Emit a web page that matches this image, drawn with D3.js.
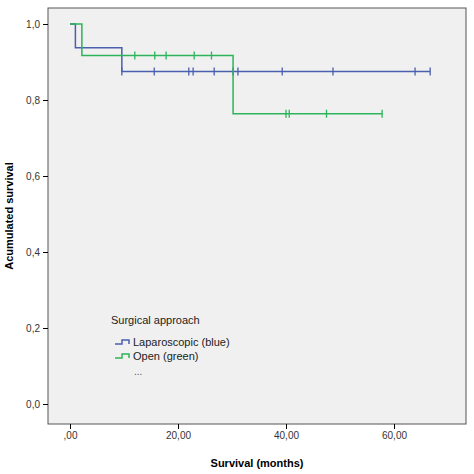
<!DOCTYPE html>
<html><head><meta charset="utf-8">
<script src="https://cdn.jsdelivr.net/npm/d3@7"></script>
<style>body{margin:0;background:#fff}text{font-family:Arial,"Liberation Sans",sans-serif}</style>
</head><body><svg id="c" width="474" height="474"></svg>
<script>
// step points (time, survival) and censor times
var blueSteps = [[0,1],[1,0.9375],[9.6,0.875],[66.7,0.875]];
var blueCens = [9.6,15.6,22.0,22.8,26.7,30.2,31.1,39.3,48.7,63.9,66.7];
var greenSteps = [[0,1],[2.2,0.917],[30.2,0.764],[57.8,0.764]];
var greenCens = [12.0,15.7,17.8,23.0,26.2,40.0,40.6,47.5,57.8];
var xTicks = [0,20,40,60];
var yTicks = [0,0.2,0.4,0.6,0.8,1.0];

var svg = d3.select("#c");
var x = d3.scaleLinear().domain([0,60]).range([70,394]);
var y = d3.scaleLinear().domain([0,1]).range([404,24]);
var L=48,R=466,T=8,B=424;
svg.append("rect").attr("x",L).attr("y",T).attr("width",R-L).attr("height",B-T).attr("fill","#f0f0f0").attr("stroke","#555");

var fmt = function(v){ var s=d3.format(".2f")(v).replace(".",","); return s.startsWith("0,")?s.slice(1):s; };
svg.append("g").attr("transform","translate(0,"+B+")")
  .call(d3.axisBottom(x).tickValues(xTicks).tickSize(5).tickFormat(fmt))
  .call(g=>{g.select(".domain").remove();g.selectAll("text").attr("font-size",10).attr("fill","#333");});
svg.append("g").attr("transform","translate("+L+",0)")
  .call(d3.axisLeft(y).tickValues(yTicks).tickSize(5).tickFormat(v=>d3.format(".1f")(v).replace(".",",")))
  .call(g=>{g.select(".domain").remove();g.selectAll("text").attr("font-size",10).attr("fill","#333");});

svg.append("text").attr("x",(L+R)/2).attr("y",467).attr("text-anchor","middle").attr("font-size",11).attr("font-weight","bold").text("Survival (months)");
svg.append("text").attr("transform","translate(13,"+((T+B)/2)+") rotate(-90)").attr("text-anchor","middle").attr("font-size",11).attr("font-weight","bold").text("Acumulated survival");

var line = d3.line().x(d=>x(d[0])).y(d=>y(d[1])).curve(d3.curveStepAfter);
function survAt(steps,t){var s=steps[0][1];steps.forEach(p=>{if(p[0]<=t)s=p[1];});return s;}
function draw(steps,cens,col){
  svg.append("path").attr("d",line(steps)).attr("fill","none").attr("stroke",col).attr("stroke-width",1.5);
  cens.forEach(t=>{var s=survAt(steps,t);
    svg.append("line").attr("x1",x(t)).attr("x2",x(t)).attr("y1",y(s)-4).attr("y2",y(s)+4).attr("stroke",col).attr("stroke-width",1.3);});
}
draw(blueSteps,blueCens,"#4a5fae");
draw(greenSteps,greenCens,"#2cb45a");

svg.append("text").attr("x",111).attr("y",324).attr("font-size",11).attr("fill","#222").text("Surgical approach");
[["Laparoscopic (blue)","#4a5fae",346],["Open (green)","#2cb45a",360]].forEach(d=>{
  svg.append("path").attr("d","M115,"+(d[2]-2)+"h7v-4h7v4").attr("fill","none").attr("stroke",d[1]).attr("stroke-width",1.5);
  svg.append("text").attr("x",133).attr("y",d[2]).attr("font-size",11).attr("fill","#222").text(d[0]);
});
svg.append("text").attr("x",134).attr("y",375).attr("font-size",10).attr("fill","#555").text("...");
</script></body></html>
